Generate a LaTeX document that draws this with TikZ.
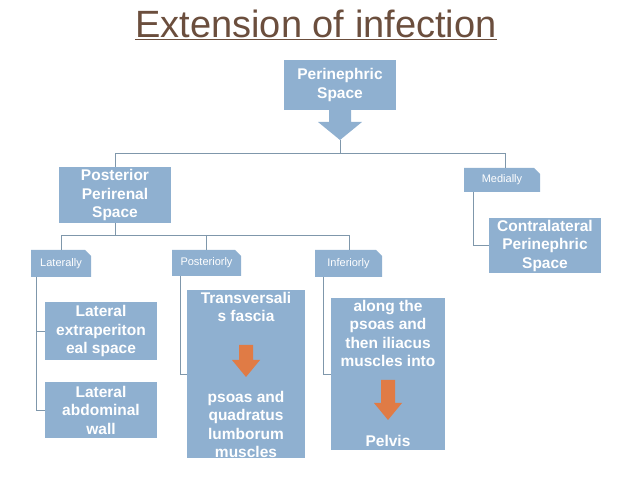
\documentclass[tikz,border=0pt]{standalone}
\usepackage{fontspec}
\setmainfont{Liberation Sans}
\begin{document}
\begin{tikzpicture}[x=1pt,y=-1pt,
  box/.style={fill=bx,text=white,font=\bfseries\fontsize{15.5}{18.5}\selectfont,align=center,inner sep=0pt},
  lab/.style={text=white,font=\fontsize{11}{12}\selectfont,inner sep=0pt},
  con/.style={draw=ln,line width=0.9pt}]
\definecolor{bx}{HTML}{8FB0D0}
\definecolor{ln}{HTML}{7F97AB}
\definecolor{og}{HTML}{E07B45}
\definecolor{tt}{HTML}{6B4E3D}
\useasboundingbox (0,0) rectangle (638,478);
\node[text=tt,font=\fontsize{38}{40}\selectfont] (title) at (316,25) {\underline{Extension of infection}};
\node[box,minimum width=112pt,minimum height=50pt] (peri) at (340,85) {Perinephric\\Space};
\fill[bx] (329,110) -- (351,110) -- (351,122) -- (362,122) -- (340,140) -- (318,122) -- (329,122) -- cycle;
\coordinate (tip) at (340,140);
\node[box,minimum width=112pt,minimum height=56pt] (post) at (115,195) {Posterior\\Perirenal\\Space};
\newcommand{\cutbox}[5]{%
  \fill[bx] (#2,#3) -- (#4-6,#3) -- (#4,#3+6) -- (#4,#5) -- (#2,#5) -- cycle;
  \coordinate (#1) at ({(#2+#4)/2},{(#3+#5)/2});}
\cutbox{med}{464}{168}{540}{192}
\node[lab] at (med) {Medially};
\node[box,minimum width=112pt,minimum height=55pt] (contra) at (545,245.5) {Contralateral\\Perinephric\\Space};
\cutbox{lat}{31}{250}{91}{277}
\node[lab] at (lat) {Laterally};
\cutbox{pos}{172}{250}{241}{276}
\node[lab] at (pos) {Posteriorly};
\cutbox{inf}{315}{250}{382}{277}
\node[lab] at (inf) {Inferiorly};
\node[box,minimum width=112pt,minimum height=58pt] (lext) at (101,331) {Lateral\\extraperiton\\eal space};
\node[box,minimum width=112pt,minimum height=56pt] (labd) at (101,410) {Lateral\\abdominal\\wall};
\node[box,minimum width=118pt,minimum height=168pt] (tf) at (246,374) {};
\node[box,anchor=north] (tft) at (246,292) {Transversali\\s fascia};
\node[box,anchor=south] (tfb) at (246,458) {psoas and\\quadratus\\lumborum\\muscles};
\fill[og] (239,345) -- (253,345) -- (253,360) -- (260,360) -- (246,377) -- (232,360) -- (239,360) -- cycle;
\node[box,minimum width=114pt,minimum height=152pt] (al) at (388,374) {};
\node[box,anchor=north] (alt) at (388,300) {along the\\psoas and\\then iliacus\\muscles into};
\node[box,anchor=south] (alb) at (388,447) {Pelvis};
\fill[og] (381,380) -- (395,380) -- (395,403) -- (402,403) -- (388,420) -- (374,403) -- (381,403) -- cycle;
\draw[con] (tip) -- (340,153) -| (post.north);
\draw[con] (340,153) -| (505,168);
\draw[con] (473,192) |- (contra.west);
\draw[con] (post.south) -- (115,235);
\draw[con] (61,250) |- (349,235) -- (349,250);
\draw[con] (206,235) -- (206,250);
\draw[con] (36,277) |- (labd.west);
\draw[con] (36,331) -- (lext.west);
\draw[con] (180,276) |- (tf.west);
\draw[con] (323,277) |- (al.west);
\end{tikzpicture}
\end{document}
